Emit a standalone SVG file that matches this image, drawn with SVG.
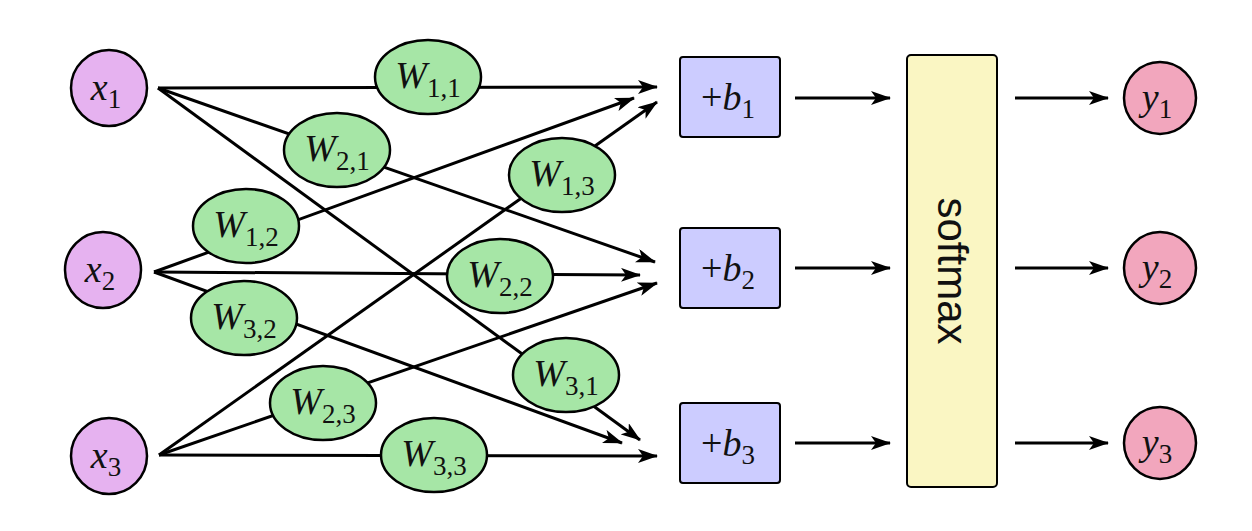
<svg xmlns="http://www.w3.org/2000/svg" width="1252" height="531" viewBox="0 0 1252 531">
<defs>
<marker id="ar" viewBox="0 0 20 14" refX="19" refY="7" markerWidth="20" markerHeight="14" markerUnits="userSpaceOnUse" orient="auto">
<path d="M0,0 L20,7 L0,14 L5,7 Z" fill="#000"/>
</marker>
</defs>
<style>
.e{stroke:#000;stroke-width:2.5;fill:#a6e6a6}
.x{stroke:#000;stroke-width:2.5;fill:#e6b2f0}
.y{stroke:#000;stroke-width:2.5;fill:#f2a6bd}
.b{stroke:#000;stroke-width:2;fill:#ccccff}
.c line{stroke:#000;stroke-width:3;marker-end:url(#ar)}
text{font-family:"Liberation Serif",serif;font-size:38px;fill:#111;text-anchor:middle}
.i{font-style:italic}
.s{font-size:27px;font-style:normal}
</style>
<g id="connectors" class="c">
<line x1="158" y1="88" x2="657" y2="87"/>
<line x1="154" y1="272" x2="634" y2="98"/>
<line x1="159" y1="455" x2="657" y2="102"/>
<line x1="158" y1="88" x2="655" y2="262"/>
<line x1="154" y1="272" x2="640" y2="275"/>
<line x1="159" y1="455" x2="657" y2="283"/>
<line x1="158" y1="88" x2="640" y2="440"/>
<line x1="154" y1="272" x2="622" y2="443"/>
<line x1="159" y1="455" x2="657" y2="456"/>
<line x1="795" y1="98" x2="890" y2="98"/>
<line x1="795" y1="268" x2="890" y2="268"/>
<line x1="795" y1="443" x2="890" y2="443"/>
<line x1="1015" y1="98" x2="1108" y2="98"/>
<line x1="1015" y1="268" x2="1108" y2="268"/>
<line x1="1015" y1="443" x2="1108" y2="443"/>
</g>
<g id="x1"><circle class="x" cx="109" cy="88" r="38"/><text x="106" y="100"><tspan class="i">x</tspan><tspan class="s" dy="8">1</tspan></text></g>
<g id="x2"><circle class="x" cx="103" cy="270" r="38"/><text x="100" y="282"><tspan class="i">x</tspan><tspan class="s" dy="8">2</tspan></text></g>
<g id="x3"><circle class="x" cx="109" cy="456" r="38"/><text x="106" y="468"><tspan class="i">x</tspan><tspan class="s" dy="8">3</tspan></text></g>
<g id="W11"><ellipse class="e" cx="428" cy="77" rx="53" ry="37"/><text x="428" y="88"><tspan class="i">W</tspan><tspan class="s" dy="9">1,1</tspan></text></g>
<g id="W21"><ellipse class="e" cx="337" cy="150" rx="53" ry="37"/><text x="337" y="161"><tspan class="i">W</tspan><tspan class="s" dy="9">2,1</tspan></text></g>
<g id="W13"><ellipse class="e" cx="562" cy="175" rx="53" ry="37"/><text x="562" y="186"><tspan class="i">W</tspan><tspan class="s" dy="9">1,3</tspan></text></g>
<g id="W12"><ellipse class="e" cx="246" cy="226" rx="53" ry="37"/><text x="246" y="237"><tspan class="i">W</tspan><tspan class="s" dy="9">1,2</tspan></text></g>
<g id="W22"><ellipse class="e" cx="500" cy="276" rx="53" ry="37"/><text x="500" y="287"><tspan class="i">W</tspan><tspan class="s" dy="9">2,2</tspan></text></g>
<g id="W32"><ellipse class="e" cx="244" cy="318" rx="53" ry="37"/><text x="244" y="329"><tspan class="i">W</tspan><tspan class="s" dy="9">3,2</tspan></text></g>
<g id="W31"><ellipse class="e" cx="566" cy="375" rx="53" ry="37"/><text x="566" y="386"><tspan class="i">W</tspan><tspan class="s" dy="9">3,1</tspan></text></g>
<g id="W23"><ellipse class="e" cx="323" cy="403" rx="53" ry="37"/><text x="323" y="414"><tspan class="i">W</tspan><tspan class="s" dy="9">2,3</tspan></text></g>
<g id="W33"><ellipse class="e" cx="434" cy="455" rx="53" ry="37"/><text x="434" y="466"><tspan class="i">W</tspan><tspan class="s" dy="9">3,3</tspan></text></g>
<g id="b1"><rect class="b" x="680" y="57" width="100" height="80" rx="3"/><text x="728" y="110">+<tspan class="i">b</tspan><tspan class="s" dy="8">1</tspan></text></g>
<g id="b2"><rect class="b" x="680" y="228" width="100" height="80" rx="3"/><text x="728" y="281">+<tspan class="i">b</tspan><tspan class="s" dy="8">2</tspan></text></g>
<g id="b3"><rect class="b" x="680" y="403" width="100" height="80" rx="3"/><text x="728" y="456">+<tspan class="i">b</tspan><tspan class="s" dy="8">3</tspan></text></g>
<g id="softmax"><rect x="907" y="55" width="90" height="432" rx="4" fill="#faf6c3" stroke="#000" stroke-width="2"/><text transform="translate(938,271) rotate(90)" style="font-family:'Liberation Sans',sans-serif;font-size:42px">softmax</text></g>
<g id="y1"><circle class="y" cx="1160" cy="98" r="36"/><text x="1157" y="110"><tspan class="i">y</tspan><tspan class="s" dy="8">1</tspan></text></g>
<g id="y2"><circle class="y" cx="1160" cy="268" r="36"/><text x="1157" y="280"><tspan class="i">y</tspan><tspan class="s" dy="8">2</tspan></text></g>
<g id="y3"><circle class="y" cx="1160" cy="443" r="36"/><text x="1157" y="455"><tspan class="i">y</tspan><tspan class="s" dy="8">3</tspan></text></g>
</svg>
